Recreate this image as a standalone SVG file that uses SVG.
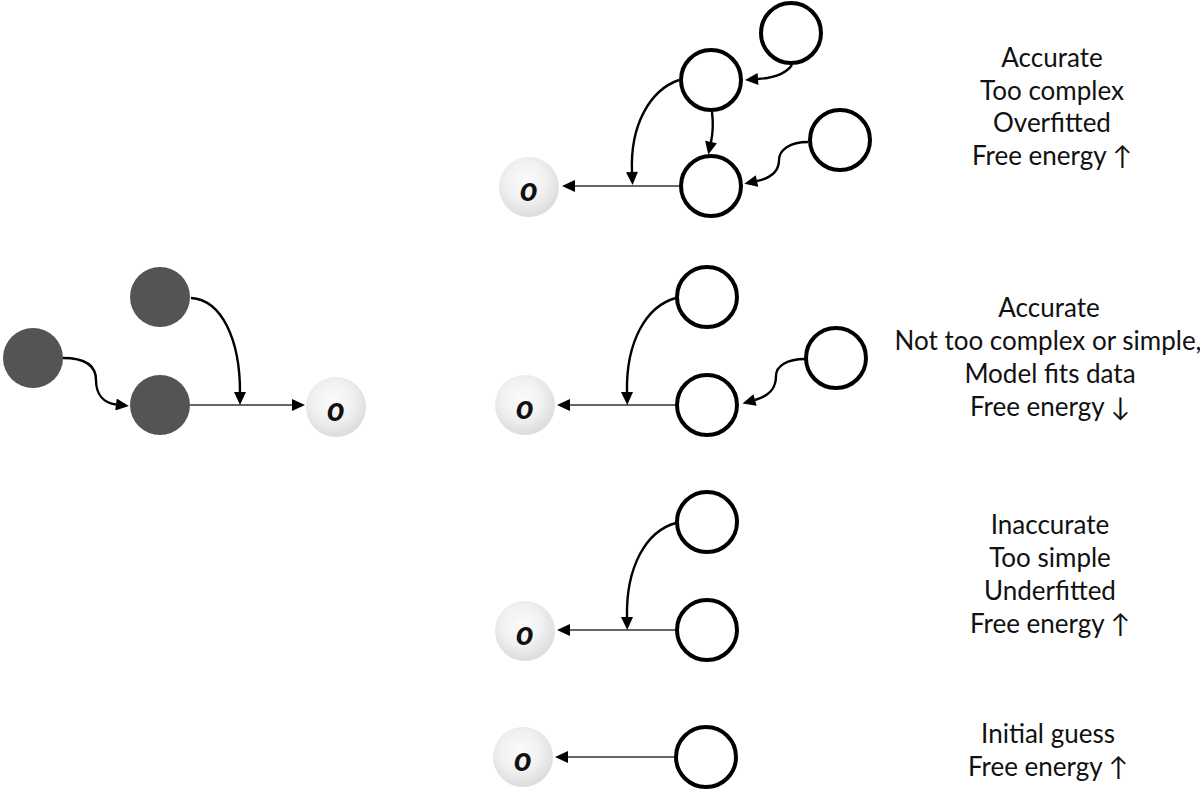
<svg xmlns="http://www.w3.org/2000/svg" width="1200" height="793" viewBox="0 0 1200 793">
<defs>
<radialGradient id="og" cx="0.45" cy="0.4" r="0.6">
<stop offset="0" stop-color="#fbfbfb"/>
<stop offset="0.55" stop-color="#f1f1f1"/>
<stop offset="1" stop-color="#dcdcdc"/>
</radialGradient>
<marker id="ah" markerUnits="userSpaceOnUse" markerWidth="14" markerHeight="12" refX="0" refY="6" orient="auto" viewBox="0 0 13 12">
<path d="M0,0 L13,6 L0,12 z" fill="#000"/>
</marker>
<style>
.dark{fill:#545454;}
.hid{fill:#fff;stroke:#000;stroke-width:4;}
.obs{fill:url(#og);}
.olab{font-family:Lato,"Open Sans",sans-serif;font-style:italic;font-weight:700;font-size:34px;fill:#111;text-anchor:middle;}
.line{fill:none;stroke:#333;stroke-width:1.6;marker-end:url(#ah);}
.curve{fill:none;stroke:#000;stroke-width:2.4;marker-end:url(#ah);}
.lbl{font-family:Lato,"Open Sans",sans-serif;font-size:26px;fill:#111;text-anchor:middle;}
</style>
</defs>
<rect width="1200" height="793" fill="#fff"/>

<g id="connectors">
<!-- left -->
<path class="line" d="M190,405 L292,405"/>
<path class="curve" d="M191,298 C222,300 240,340 240,392"/>
<path class="curve" d="M63,358 C88,358 96,368 96,380 C96,395 104,403 116,404.5"/>
<!-- section 1 -->
<path class="line" d="M680,186 L575,186"/>
<path class="curve" d="M679,80 C650,90 630,125 632,172"/>
<path class="curve" d="M712,112 Q714,128 711,142"/>
<path class="curve" d="M792,65 C785,75 772,78 758,79"/>
<path class="curve" d="M808,142 C790,142 779,150 779,160 C779,171 771,178 757,181"/>
<!-- section 2 -->
<path class="line" d="M676,405 L570,405"/>
<path class="curve" d="M676,298 C646,306 626,342 627,392"/>
<path class="curve" d="M805,359 C787,359 776,366 776,376 C776,389 769,396 755,400"/>
<!-- section 3 -->
<path class="line" d="M676,630 L570,630"/>
<path class="curve" d="M676,523 C646,531 626,567 627,617"/>
<!-- section 4 -->
<path class="line" d="M676,757 L568,757"/>
</g>

<g id="left-a"><circle class="dark" cx="33" cy="358" r="30"/></g>
<g id="left-b"><circle class="dark" cx="160" cy="297" r="30"/></g>
<g id="left-c"><circle class="dark" cx="160" cy="405" r="30"/></g>
<g id="left-o"><circle class="obs" cx="336" cy="407" r="30"/><text class="olab" x="336" y="421">o</text></g>

<g id="s1-tr"><circle class="hid" cx="791" cy="33" r="30"/></g>
<g id="s1-m"><circle class="hid" cx="711" cy="80" r="30"/></g>
<g id="s1-l"><circle class="hid" cx="711" cy="186" r="30"/></g>
<g id="s1-r"><circle class="hid" cx="840" cy="140" r="30"/></g>
<g id="s1-o"><circle class="obs" cx="529" cy="187" r="30"/><text class="olab" x="529" y="201">o</text></g>

<g id="s2-u"><circle class="hid" cx="707" cy="297" r="30"/></g>
<g id="s2-l"><circle class="hid" cx="707" cy="405" r="30"/></g>
<g id="s2-r"><circle class="hid" cx="836" cy="358" r="30"/></g>
<g id="s2-o"><circle class="obs" cx="525" cy="405" r="30"/><text class="olab" x="525" y="419">o</text></g>

<g id="s3-u"><circle class="hid" cx="707" cy="522" r="30"/></g>
<g id="s3-l"><circle class="hid" cx="707" cy="630" r="30"/></g>
<g id="s3-o"><circle class="obs" cx="525" cy="631" r="30"/><text class="olab" x="525" y="645">o</text></g>

<g id="s4-n"><circle class="hid" cx="706" cy="757" r="30"/></g>
<g id="s4-o"><circle class="obs" cx="523" cy="757" r="30"/><text class="olab" x="523" y="771">o</text></g>

<g id="label-1">
<text class="lbl" x="1052" y="67">Accurate</text>
<text class="lbl" x="1052" y="100">Too complex</text>
<text class="lbl" x="1052" y="132">Overfitted</text>
<text class="lbl" x="1052" y="165">Free energy ↑</text>
</g>
<g id="label-2">
<text class="lbl" x="1049" y="317">Accurate</text>
<text class="lbl" x="1048" y="350">Not too complex or simple,</text>
<text class="lbl" x="1050" y="383">Model fits data</text>
<text class="lbl" x="1050" y="416">Free energy ↓</text>
</g>
<g id="label-3">
<text class="lbl" x="1050" y="534">Inaccurate</text>
<text class="lbl" x="1050" y="567">Too simple</text>
<text class="lbl" x="1050" y="600">Underfitted</text>
<text class="lbl" x="1050" y="633">Free energy ↑</text>
</g>
<g id="label-4">
<text class="lbl" x="1048" y="743">Initial guess</text>
<text class="lbl" x="1048" y="776">Free energy ↑</text>
</g>
</svg>
